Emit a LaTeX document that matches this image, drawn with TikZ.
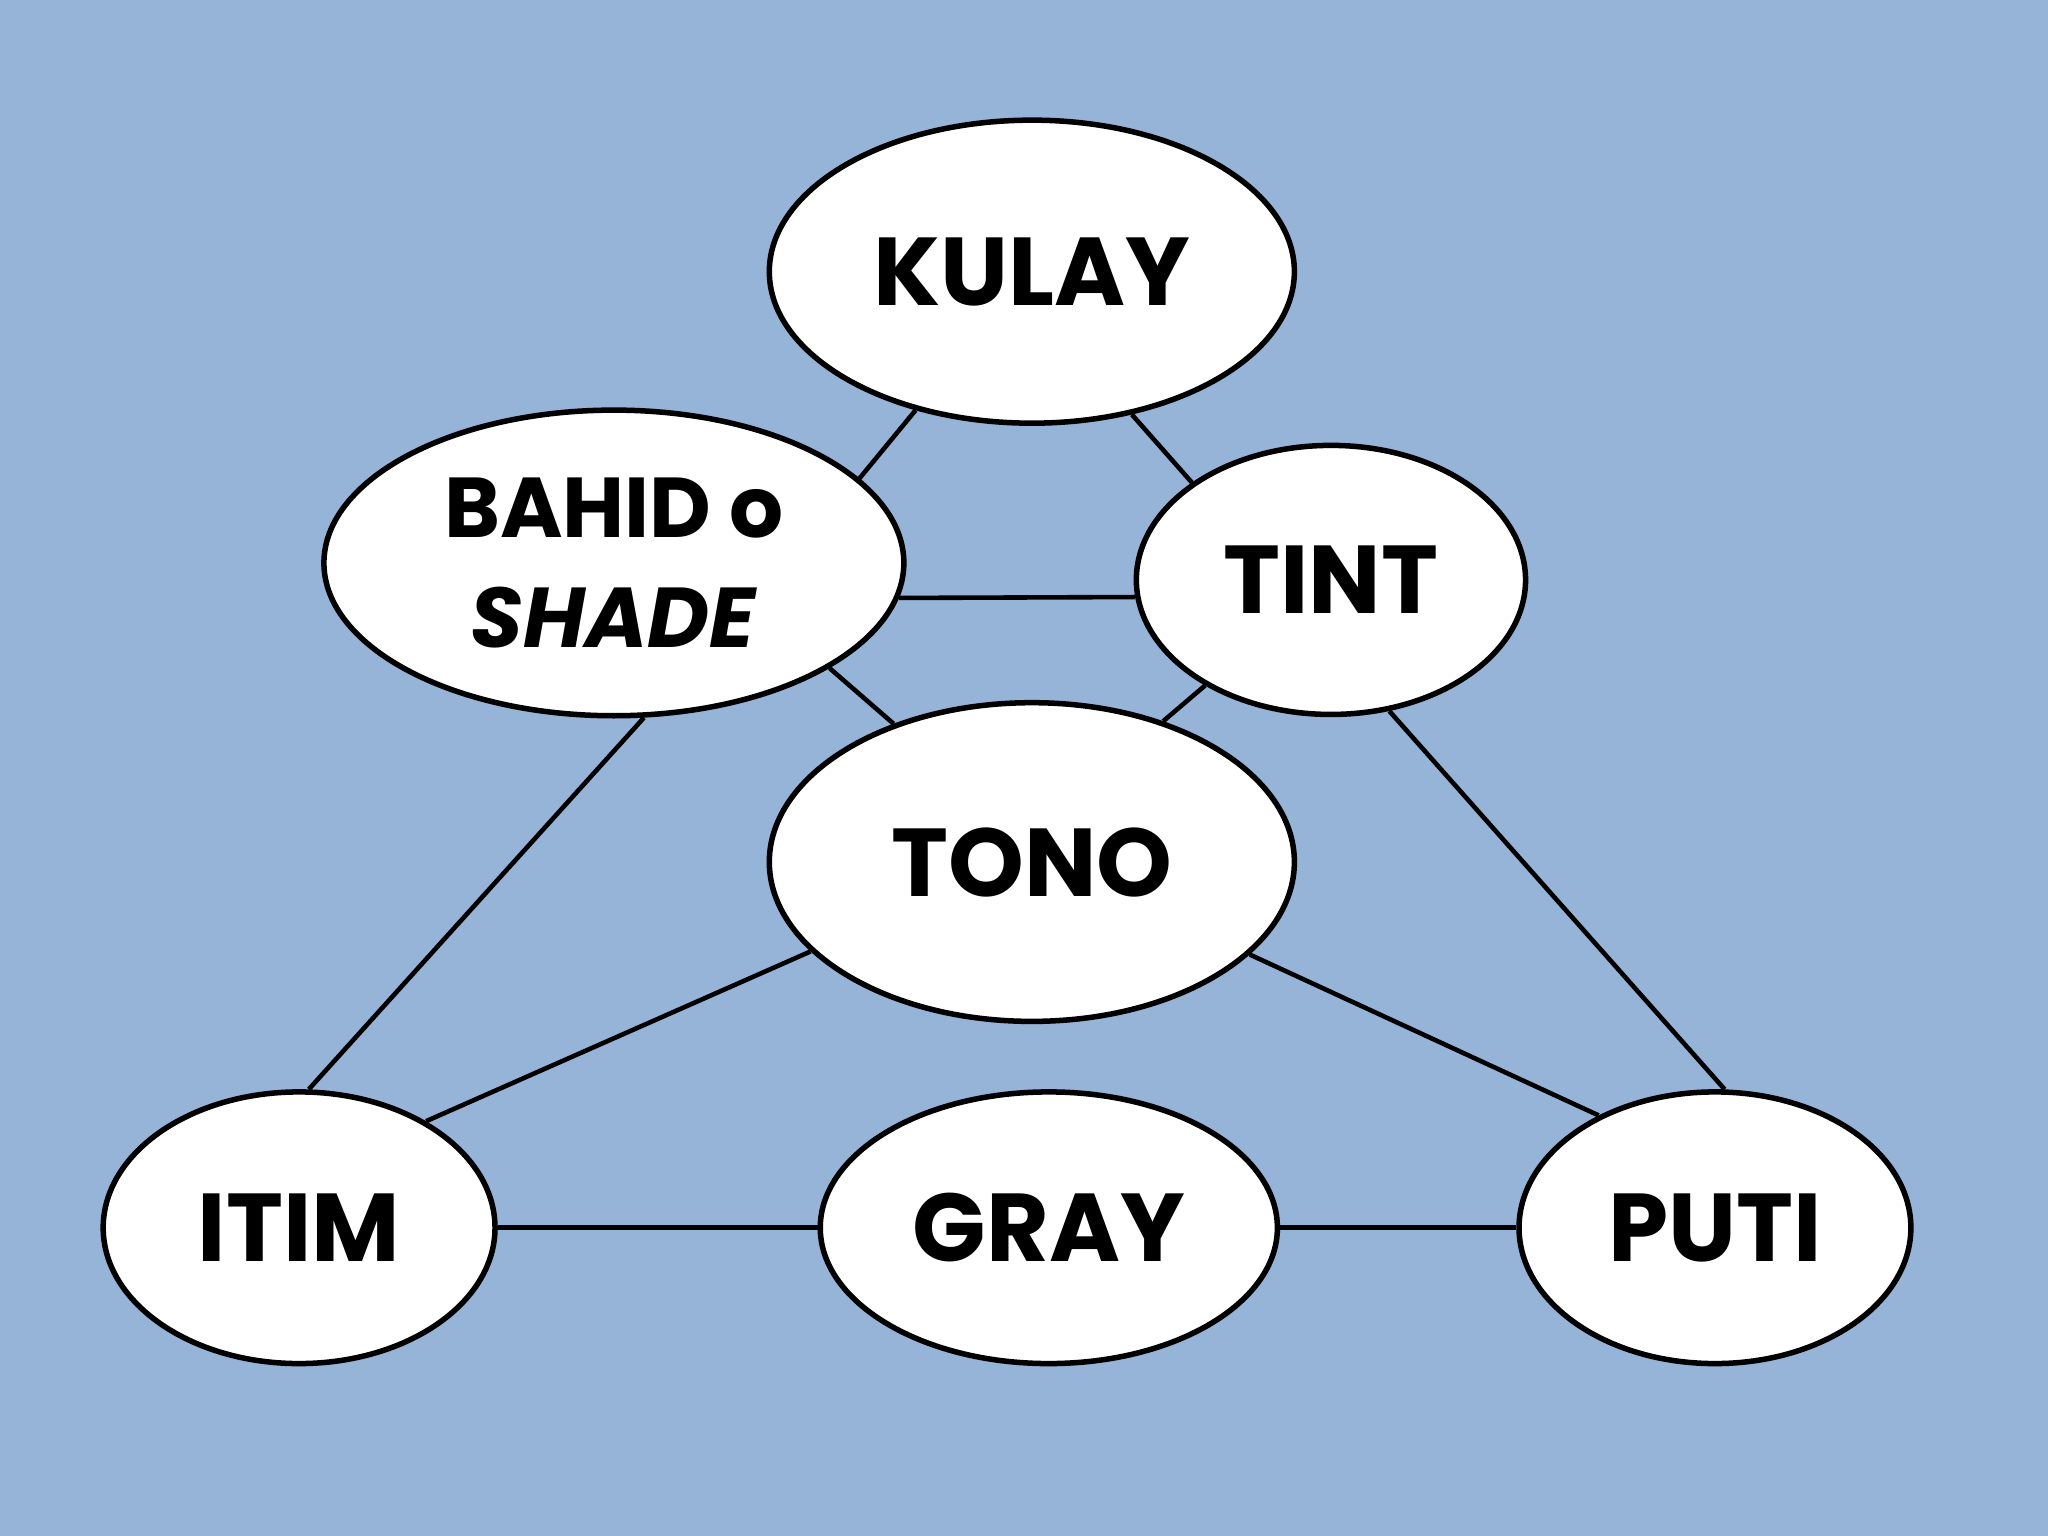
\documentclass[tikz,border=0pt]{standalone}
\usepackage{fontspec}
\setmainfont{Poppins}
\usetikzlibrary{shapes.geometric}
\definecolor{bgblue}{RGB}{150,179,216}
\begin{document}
\begin{tikzpicture}[main/.style = {draw, ellipse, fill=white, line width=1.2pt, inner sep=0pt, align=center, font=\fontsize{21}{25}\selectfont\bfseries}, link/.style = {line width=1pt}]
            \fill[bgblue] (0,0) rectangle (15.68,-11.76);
            \node[main, minimum width=4.02cm, minimum height=2.32cm] (kulay) at (7.90,-2.08) {KULAY};
            \node[main, minimum width=4.44cm, minimum height=2.34cm, font=\fontsize{18.5}{24}\selectfont\bfseries] (bahid) at (4.70,-4.31) {BAHID o\\ \textit{SHADE}};
            \node[main, minimum width=2.98cm, minimum height=2.06cm] (tint) at (10.19,-4.44) {TINT};
            \node[main, minimum width=4.02cm, minimum height=2.44cm] (tono) at (7.90,-6.60) {TONO};
            \node[main, minimum width=3.00cm, minimum height=2.08cm] (itim) at (2.29,-9.40) {ITIM};
            \node[main, minimum width=3.50cm, minimum height=2.08cm] (gray) at (8.03,-9.40) {GRAY};
            \node[main, minimum width=3.00cm, minimum height=2.08cm] (puti) at (13.13,-9.40) {PUTI};
            \draw[link] (kulay.230) -- (bahid.19);
            \draw[link] (kulay.305) -- (tint.145);
            \draw[link] (bahid.353) -- (tint.185);
            \draw[link] (bahid.334) -- (tono.135);
            \draw[link] (tint.220) -- (tono.47);
            \draw[link] (bahid.281) -- (itim.86);
            \draw[link] (tint.294) -- (puti.86);
            \draw[link] (tono.202) -- (itim.40);
            \draw[link] (tono.337) -- (puti.136);
            \draw[link] (itim) -- (gray);
            \draw[link] (gray) -- (puti);
        \end{tikzpicture}
\end{document}
